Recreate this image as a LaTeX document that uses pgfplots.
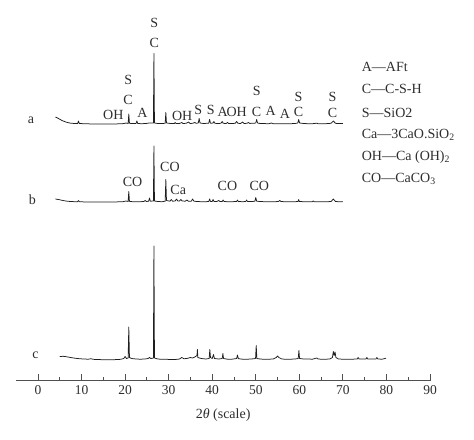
\documentclass[border=0pt]{standalone}
\usepackage{fontspec}
\setmainfont{Liberation Serif}
\usepackage{pgfplots}
\pgfplotsset{compat=1.18}
\definecolor{txt}{RGB}{45,45,45}
\definecolor{trc}{RGB}{30,30,30}
\definecolor{axc}{RGB}{80,80,80}
\begin{document}
\begin{tikzpicture}
\begin{axis}[
  scale only axis,
  width=413.8pt, height=380.5pt,
  xmin=-5, xmax=90, ymin=0, ymax=380.5,
  axis x line=bottom, hide y axis,
  x axis line style={-, color=axc, line width=0.8pt},
  clip=false,
  xtick={0,10,...,90},
  minor xtick={5,15,...,85},
  tick align=inside,
  major tick length=7pt, minor tick length=3.5pt,
  tick style={color=axc, line width=0.8pt},
  /pgf/number format/assume math mode=true,
  tick label style={font=\fontsize{13.5}{15}\selectfont, text=txt},
  xticklabel style={yshift=-1pt},
  no markers,
]
% trace a
\addplot[trc, line width=0.75pt, line join=round] coordinates {
(4,263.5) (4.7,262) (5.5,260) (6.5,258.3) (7.5,257.3) (8.5,257) (9.1,257) (9.3,259.5) (9.5,257) (10.5,256.8) (12,256.6) (13.5,256.5) (15,256.5) (16.5,256.5) (18,256.6) (19,256.7) (19.8,257) (20.2,257.5) (20.7,257) (20.85,266.5) (21.0,257.2) (21.8,256.9) (22.5,257) (22.7,259.5) (22.9,257) (23.8,256.8) (24.8,257) (25.5,257.5) (26.5,257.5) (26.62,327) (26.74,257.5) (27.5,257) (28.5,256.9) (29.2,257.3) (29.35,268) (29.5,257.5) (30.5,257) (31.3,257) (31.5,258) (31.7,257) (32.5,257) (33,258) (33.3,257) (34,257.2) (34.6,258.5) (34.9,257) (35.5,257.2) (36,258) (36.3,257.2) (36.8,257.5) (37.0,262) (37.2,257.5) (38,257) (39.2,257.3) (39.4,261) (39.6,257.2) (40.2,257.5) (40.4,259) (40.6,257.2) (41.3,257) (42,257.2) (42.3,259) (42.5,257.2) (43.2,257) (43.5,258) (43.8,257) (44.5,257) (45.3,257.2) (45.6,259) (45.9,257.2) (46.5,257) (47.0,258.5) (47.3,257) (48,257.2) (48.3,258) (48.6,257.1) (49.5,257.2) (50.0,257.5) (50.2,261) (50.4,257.5) (51,257) (52,256.9) (53,256.8) (53.6,257.5) (54,256.8) (55,256.8) (56,256.8) (57,256.8) (58,256.8) (59,257) (59.65,257.5) (59.85,261) (60.05,257.5) (61,257) (62,256.8) (63,256.8) (64,257.3) (64.3,256.8) (65,256.8) (66,256.8) (67.3,257.2) (67.8,259.5) (68.3,257.2) (69,256.9) (70,256.9)
};
% trace b
\addplot[trc, line width=0.75pt, line join=round] coordinates {
(4,181.5) (4.7,181) (5.5,180.2) (6.5,179.4) (7.5,179) (8.5,178.8) (9.1,178.8) (9.3,180) (9.5,178.8) (10.5,178.6) (12,178.5) (13.5,178.5) (15,178.5) (16.5,178.6) (18,178.6) (19.5,178.8) (20.2,179.5) (20.7,179) (20.85,189) (21.0,179.2) (21.7,178.8) (22.5,178.7) (23.5,178.8) (24.3,179) (24.6,180) (24.9,179) (25.4,179.3) (25.6,182.5) (25.8,179.3) (26.5,179.5) (26.62,234.5) (26.74,179.5) (27.5,179) (28.5,178.8) (29.2,179.3) (29.35,201) (29.5,180) (30.3,179.3) (30.6,181) (30.9,179.3) (31.5,179.5) (31.8,181.5) (32.1,179.5) (32.5,179.5) (32.8,181) (33.1,179.5) (33.8,179.3) (34.2,180.5) (34.5,179.3) (35.2,179.3) (35.5,181.5) (35.8,179.3) (36.5,179) (37.5,178.8) (38.5,178.8) (39.2,179) (39.4,181.5) (39.6,179) (40,179) (40.2,181) (40.4,179) (41,178.9) (41.5,180) (41.8,178.9) (42.3,179) (42.5,180.5) (42.7,179) (43.5,178.8) (44.5,178.8) (45.6,179) (45.8,180.5) (46,179) (47,178.8) (47.7,179) (47.9,180.5) (48.1,179) (49,178.9) (49.8,179.3) (50.0,183) (50.2,179.3) (51,179) (52,178.8) (53,178.7) (54,178.7) (55.2,179) (55.5,180) (55.8,179) (57,178.7) (58,178.7) (59,178.8) (59.7,179) (59.85,181) (60,179) (61,178.8) (62,178.7) (63,178.8) (63.2,179.5) (63.4,178.8) (65,178.7) (66,178.7) (67.3,179) (67.8,181.5) (68.3,179) (69,178.8) (70,178.8)
};
% trace c
\addplot[trc, line width=0.75pt, line join=round] coordinates {
(5,24) (5.8,24.2) (6.5,23.8) (7.5,23) (8.5,22.3) (9.5,21.8) (10.5,21.5) (11.5,21.3) (12.2,21.8) (12.6,21.2) (13.5,21) (15,20.8) (16.5,20.8) (18,20.9) (19,21.2) (19.7,22) (20.0,24) (20.3,22) (20.7,22.5) (20.85,53.5) (21.0,23) (21.5,22) (22.5,21.5) (23.5,21.3) (24.5,21.5) (25.3,22) (25.6,23) (25.9,22) (26.5,22.5) (26.62,134.5) (26.74,22.5) (27.5,21.5) (28.5,21.2) (29.5,21.2) (30.5,21) (31.5,21) (32.5,21.5) (33,23) (33.5,21.8) (34.2,22) (35,23) (35.5,22.5) (36,23.5) (36.5,25) (36.6,31) (36.7,23) (37.5,22) (38.5,21.5) (39.3,22) (39.45,31) (39.6,23) (40,22) (40.3,26) (40.5,22) (41.5,21.5) (42.3,22) (42.45,27) (42.6,22) (43.5,21.3) (44.5,21.3) (45.6,22) (45.8,25.5) (46,21.8) (47,21.3) (48,21.3) (49,21.5) (49.95,22) (50.1,35) (50.25,22) (51,21.5) (52,21.2) (53,21.3) (54,21.5) (54.7,23) (55,24.5) (55.3,23) (56,21.5) (57,21.2) (58,21.3) (59,21.5) (59.75,22) (59.9,30) (60.05,22) (61,21.5) (62,21.5) (63,21.3) (64,22.5) (64.3,21.5) (65,21.3) (66,21.3) (67,21.5) (67.6,23) (67.8,29) (68,25) (68.2,28.5) (68.4,23) (69,21.5) (70,21.3) (71,21.3) (72,21.3) (73.3,21.5) (73.5,23) (73.7,21.5) (75.3,21.5) (75.5,23) (75.7,21.5) (77.6,21.5) (77.8,23) (78,21.5) (79,21.3) (79.9,22.3)
};
\begin{scope}[every node/.style={font=\fontsize{14}{16}\selectfont, text=txt, inner sep=0pt}]
% trace names
\node at (axis cs:-1.6,260.5) {a};
\node at (axis cs:-1.3,180.5) {b};
\node at (axis cs:-0.6,25.5) {c};
% peak labels a
\node at (axis cs:26.7,358) {S};
\node at (axis cs:26.7,338) {C};
\node at (axis cs:20.7,300.5) {S};
\node at (axis cs:20.7,281) {C};
\node at (axis cs:17.3,265.5) {OH};
\node at (axis cs:24.0,268) {A};
\node at (axis cs:33.1,264.5) {OH};
\node at (axis cs:36.8,271) {S};
\node at (axis cs:39.65,271) {S};
\node at (axis cs:42.4,269) {A};
\node at (axis cs:45.6,269) {OH};
\node at (axis cs:50.2,269) {C};
\node at (axis cs:50.2,290) {S};
\node at (axis cs:53.4,270) {A};
\node at (axis cs:56.7,266.5) {A};
\node at (axis cs:59.8,284) {S};
\node at (axis cs:59.8,269) {C};
\node at (axis cs:67.6,284) {S};
\node at (axis cs:67.6,268) {C};
% peak labels b
\node at (axis cs:21.7,199) {CO};
\node at (axis cs:30.3,214) {CO};
\node at (axis cs:32.2,191) {Ca};
\node at (axis cs:43.5,194.5) {CO};
\node at (axis cs:50.8,194.5) {CO};
% key
\node[anchor=west] at (axis cs:74.3,313.8) {A—AFt};
\node[anchor=west] at (axis cs:74.3,291.2) {C—C-S-H};
\node[anchor=west] at (axis cs:74.3,267.8) {S—SiO2};
\node[anchor=west] at (axis cs:74.3,245.5) {Ca—3CaO.SiO\textsubscript{2}};
\node[anchor=west] at (axis cs:74.3,223.2) {OH—Ca (OH)\textsubscript{2}};
\node[anchor=west] at (axis cs:74.3,201.2) {CO—CaCO\textsubscript{3}};
% axis label
\node at (axis cs:42.5,-34.5) {2\textit{θ} (scale)};
\end{scope}
\coordinate (BL) at (axis cs:-8.72,-58.5);
\coordinate (TR) at (axis cs:100.1,380.5);
\end{axis}
\pgfresetboundingbox
\path[use as bounding box] (BL) rectangle (TR);
\end{tikzpicture}
\end{document}
